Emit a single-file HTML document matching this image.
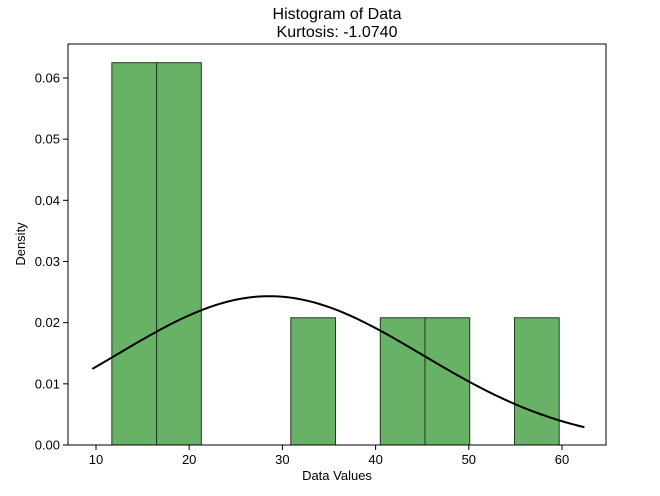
<!DOCTYPE html>
<html><head><meta charset="utf-8"><style>
body{margin:0;background:#fff;font-family:"Liberation Sans","DejaVu Sans",sans-serif;}
svg text{font-family:"Liberation Sans","DejaVu Sans",sans-serif;}
</style></head><body>
<svg id="chart" width="660" height="491" xmlns="http://www.w3.org/2000/svg">
<text x="337" y="19" font-size="16" text-anchor="middle">Histogram of Data</text>
<text x="337" y="37" font-size="16" text-anchor="middle">Kurtosis: -1.0740</text>
<g id="bars"></g>
<path id="curve" fill="none" stroke="#000" stroke-width="2"/>
<rect x="68" y="44" width="538" height="401" fill="none" stroke="#000" stroke-width="1"/>
<g id="xticks"></g>
<g id="yticks"></g>
<text x="337" y="480" font-size="13" text-anchor="middle">Data Values</text>
<text transform="translate(25,244) rotate(-90)" font-size="13" text-anchor="middle">Density</text>
</svg>
<script>
const binEdges=[11.7,16.5,21.3,26.1,30.9,35.7,40.5,45.3,50.1,54.9,59.7];
const densities=[0.0625,0.0625,0,0,0.0208,0,0.0208,0.0208,0,0.0208];
const xTicks=[10,20,30,40,50,60];
const yTicks=[0,0.01,0.02,0.03,0.04,0.05,0.06];
const curveMean=28.6;
const curveStd=16.4;
const curveRange=[9.6,62.4];
const NS="http://www.w3.org/2000/svg";
const X=v=>96+(v-10)*9.32;
const Y=v=>445-v*6117;
const bars=document.getElementById('bars');
densities.forEach((d,i)=>{
  if(d<=0)return;
  const r=document.createElementNS(NS,'rect');
  
  
  r.setAttribute('x',X(binEdges[i]));r.setAttribute('width',X(binEdges[i+1])-X(binEdges[i]));
  r.setAttribute('y',Y(d));r.setAttribute('height',Y(0)-Y(d));
  r.setAttribute('fill','#67b267');r.setAttribute('stroke','#1f3a1f');r.setAttribute('stroke-width','1');
  bars.appendChild(r);
});
let p='';
for(let k=0;k<=200;k++){
  const x=curveRange[0]+(curveRange[1]-curveRange[0])*k/200;
  const y=Math.exp(-0.5*((x-curveMean)/curveStd)**2)/(curveStd*Math.sqrt(2*Math.PI));
  p+=(k?'L':'M')+X(x).toFixed(2)+','+Y(y).toFixed(2);
}
document.getElementById('curve').setAttribute('d',p);
const xg=document.getElementById('xticks');
xTicks.forEach(t=>{
  const l=document.createElementNS(NS,'line');
  
  
  l.setAttribute('x1',X(t));l.setAttribute('x2',X(t));l.setAttribute('y1',445);l.setAttribute('y2',450);l.setAttribute('stroke','#000');
  xg.appendChild(l);
  const tx=document.createElementNS(NS,'text');
  
  
  tx.setAttribute('x',X(t));tx.setAttribute('y',464);tx.setAttribute('font-size','13');tx.setAttribute('text-anchor','middle');
  tx.textContent=t;xg.appendChild(tx);
});
const yg=document.getElementById('yticks');
yTicks.forEach(t=>{
  const l=document.createElementNS(NS,'line');
  
  
  l.setAttribute('x1',63);l.setAttribute('x2',68);l.setAttribute('y1',Y(t));l.setAttribute('y2',Y(t));l.setAttribute('stroke','#000');
  yg.appendChild(l);
  const tx=document.createElementNS(NS,'text');
  
  
  tx.setAttribute('x',60);tx.setAttribute('y',Y(t)+4.5);tx.setAttribute('font-size','13');tx.setAttribute('text-anchor','end');
  tx.textContent=t.toFixed(2);yg.appendChild(tx);
});
</script>
</body></html>
